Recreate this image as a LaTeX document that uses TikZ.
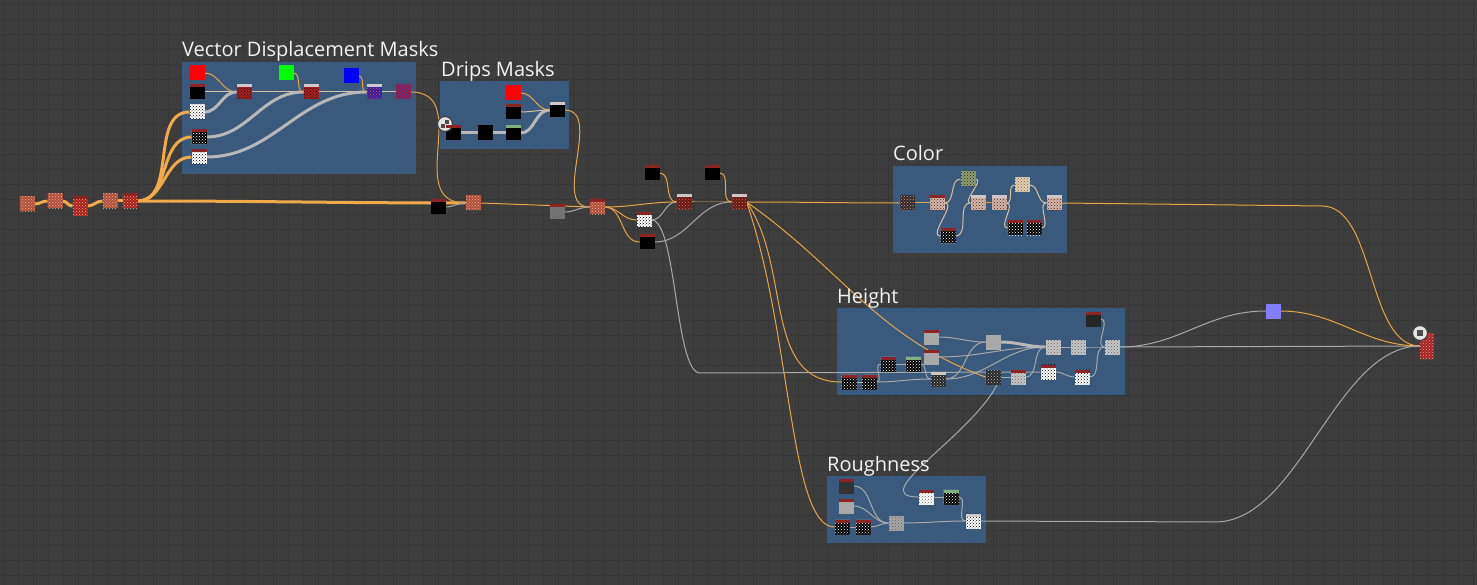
\documentclass[tikz,border=0pt]{standalone}
\usepackage{fontspec}
\setmainfont{Open Sans}
\usetikzlibrary{patterns}
\pgfdeclarelayer{bgl}
\pgfdeclarelayer{lnk}
\pgfsetlayers{bgl,lnk,main}
\definecolor{bg}{HTML}{3D3D3D}
\definecolor{gridc}{HTML}{363636}
\definecolor{frm}{HTML}{3A5A7D}
\definecolor{ttlc}{HTML}{F2F2F2}
\definecolor{oth}{HTML}{F2A94A}
\definecolor{otn}{HTML}{E6A446}
\definecolor{gtk}{HTML}{B8B8B8}
\definecolor{gtn}{HTML}{A8A8A8}
\definecolor{btn}{HTML}{D8C0A0}
\definecolor{barR}{HTML}{8C2424}
\definecolor{barW}{HTML}{D0C8C8}
\definecolor{barG}{HTML}{80B080}
\definecolor{orF}{HTML}{B05040}
\definecolor{orD}{HTML}{F0B080}
\definecolor{rnF}{HTML}{A82020}
\definecolor{rnD}{HTML}{200505}
\definecolor{bnF}{HTML}{3020A0}
\definecolor{bnD}{HTML}{FF4040}
\definecolor{pnF}{HTML}{902050}
\definecolor{pnD}{HTML}{3040C0}
\definecolor{drF}{HTML}{601818}
\definecolor{drD}{HTML}{F07040}
\definecolor{pkF}{HTML}{D8B8A8}
\definecolor{pkD}{HTML}{402020}
\definecolor{dkF}{HTML}{302828}
\definecolor{dkD}{HTML}{D0A8A0}
\definecolor{gnF}{HTML}{90A070}
\definecolor{gnD}{HTML}{202010}
\definecolor{beF}{HTML}{E0D0B0}
\definecolor{beD}{HTML}{806040}
\definecolor{lgF}{HTML}{C8C8C8}
\definecolor{lgD}{HTML}{606060}
\definecolor{ggF}{HTML}{A8A8A8}
\definecolor{vio}{HTML}{8080FF}
\tikzset{
  nd/.style={draw=none, minimum width=15pt, minimum height=15pt, inner sep=0pt, outer sep=0pt},
  tx/.style 2 args={nd, fill=#1, postaction={pattern=crosshatch dots, pattern color=#2}},
  pl/.style={nd, fill=#1},
  ttl/.style={text=ttlc, font=\fontsize{20}{22}\selectfont, anchor=base west, inner sep=0pt},
  frame/.style={fill=frm},
  lk/.style={out=0, in=180},
  othick/.style={draw=oth, line width=3pt},
  othin/.style={draw=otn, line width=1pt},
  gthick/.style={draw=gtk, line width=3pt},
  gthin/.style={draw=gtn, line width=1pt},
  bthin/.style={draw=btn, line width=1pt},
  icon/.style={circle, fill=white!90!black, draw=black!75, line width=1.2pt, minimum size=15pt, inner sep=0pt},
}
\begin{document}
\begin{tikzpicture}[x=1pt, y=-1pt]
\useasboundingbox (0,0) rectangle (1477,585);
\begin{pgfonlayer}{bgl}
\fill[bg] (0,0) rectangle (1477,585);
\foreach \x in {3,18,...,1477} \draw[gridc, line width=1pt] (\x,0) -- (\x,585);
\foreach \y in {5,20,...,585} \draw[gridc, line width=1pt] (0,\y) -- (1477,\y);
\fill[frame] (182,62) rectangle (416,174);
\fill[frame] (440,81) rectangle (569,149);
\fill[frame] (893,166) rectangle (1067,253);
\fill[frame] (837,308) rectangle (1125,395);
\fill[frame] (827,476) rectangle (986,543);
\end{pgfonlayer}
\node[ttl] (t1) at (182,57) {Vector Displacement Masks};
\node[ttl] (t2) at (441,77) {Drips Masks};
\node[ttl] (t3) at (893,161) {Color};
\node[ttl] (t4) at (837,303) {Height};
\node[ttl] (t5) at (827,471) {Roughness};

% nodes: left chain
\node[tx={orF}{orD}] (a1) at (27,204) {};
\node[tx={orF}{orD}] (a2) at (55,201) {};
\node[tx={rnF}{orD}, minimum height=20pt] (a3) at (80,206) {};
\node[tx={orF}{orD}] (a4) at (110,201) {};
\node[tx={rnF}{orD}] (a5) at (130,201) {};
% VDM
\node[pl=red] (v1) at (197,73) {};
\node[pl=black] (v2) at (197,92) {};
\node[tx={white}{black}] (v3) at (197,112) {};
\node[tx={black}{white}] (v4) at (199,137) {};
\node[tx={white}{black}] (v5) at (199,157) {};
\node[tx={rnF}{rnD}] (v6) at (244,92) {};
\node[pl=green] (v7) at (286,73) {};
\node[tx={rnF}{rnD}] (v8) at (311,92) {};
\node[pl=blue] (v9) at (351,76) {};
\node[tx={bnF}{bnD}] (v10) at (374,92) {};
\node[tx={pnF}{pnD}] (v11) at (403,92) {};
% Drips
\node[pl=black] (d1) at (453,133) {};
\node[pl=black] (d2) at (485,133) {};
\node[pl=black] (d3) at (513,133) {};
\node[pl=red] (d4) at (513,93) {};
\node[pl=black] (d5) at (513,112) {};
\node[pl=black] (d6) at (557,110) {};
\node[icon] (d0) at (445,124) {};
% middle
\node[pl=black] (m1) at (438,207) {};
\node[tx={orF}{orD}] (m2) at (473,203) {};
\node[pl=black!55] (m3) at (557,212) {};
\node[tx={orF}{orD}] (m4) at (597,207) {};
\node[pl=black] (m5) at (652,173) {};
\node[tx={white}{black}] (m6) at (644,220) {};
\node[tx={drF}{drD}] (m7) at (684,202) {};
\node[pl=black] (m8) at (712,173) {};
\node[tx={drF}{drD}] (m9) at (739,202) {};
\node[pl=black] (m10) at (647,242) {};
\coordinate (g1) at (700,373);
% Color
\node[tx={dkF}{dkD}] (c1) at (907,203) {};
\node[tx={pkF}{pkD}] (c2) at (937,203) {};
\node[tx={gnF}{gnD}] (c3) at (968,179) {};
\node[tx={pkF}{pkD}] (c4) at (978,203) {};
\node[tx={black}{white}] (c5) at (948,236) {};
\node[tx={pkF}{pkD}] (c6) at (999,203) {};
\node[tx={beF}{beD}] (c7) at (1022,185) {};
\node[tx={black}{white}] (c8) at (1015,228) {};
\node[tx={black}{white}] (c9) at (1034,228) {};
\node[tx={pkF}{pkD}] (c10) at (1054,203) {};
\coordinate (cc) at (1322,206);
% Height
\node[tx={black}{white}] (h1) at (849,382) {};
\node[tx={black}{white}] (h2) at (869,382) {};
\node[tx={black}{white}] (h3) at (888,364) {};
\node[tx={black}{white}] (h4) at (913,364) {};
\node[pl=ggF] (h5) at (931,337) {};
\node[pl=ggF] (h6) at (931,357) {};
\node[tx={black!85}{lgF}] (h7) at (938,379) {};
\node[pl=ggF] (h8) at (993,342) {};
\node[tx={black!85}{lgF}] (h9) at (993,377) {};
\node[tx={lgF}{lgD}] (h10) at (1018,377) {};
\node[tx={lgF}{lgD}] (h11) at (1053,347) {};
\node[tx={lgF}{lgD}] (h12) at (1078,347) {};
\node[tx={white}{black}] (h13) at (1048,372) {};
\node[tx={white}{black}] (h14) at (1082,377) {};
\node[pl=black!85] (h15) at (1093,319) {};
\node[tx={lgF}{lgD}] (h16) at (1112,347) {};
\node[pl=vio] (vv) at (1273,311) {};
% Roughness
\node[pl=black!80] (r1) at (846,486) {};
\node[pl=ggF] (r2) at (846,506) {};
\node[tx={black}{white}] (r3) at (842,527) {};
\node[tx={black}{white}] (r4) at (863,527) {};
\node[tx={ggF}{lgD}] (r5) at (896,523) {};
\node[tx={white}{black!60}] (r6) at (926,497) {};
\node[tx={black}{white}] (r7) at (951,497) {};
\node[tx={white}{black}] (r8) at (973,521) {};
\coordinate (rc) at (1215,522);
% output
\node[tx={rnF}{dkD}, minimum width=14pt, minimum height=26pt] (out) at (1427,346) {};
\node[icon] (oc) at (1420,333) {};
\fill[black!70] ([shift={(-3pt,-3pt)}]oc.center) rectangle ([shift={(3pt,3pt)}]oc.center);
\fill[black!70] ([shift={(-4pt,-4pt)}]d0.center) rectangle (d0.center);
\fill[black!70] (d0.center) rectangle ([shift={(4pt,4pt)}]d0.center);

% header bars
\foreach \n in {v2,v4,v5,d1,d5,m1,m3,m4,m5,m6,m8,m10,c2,c5,c8,c9,h1,h2,h3,h5,h6,h10,h13,h14,h15,r1,r2,r3,r4,r6,a3,a5}
  \fill[barR] (\n.north west) rectangle ([yshift=-3pt]\n.north east);
\foreach \n in {v6,v8,v10,d6,m7,m9,c10,c6,c4,h7,r8}
  \fill[barW] (\n.north west) rectangle ([yshift=-3pt]\n.north east);
\foreach \n in {d3,h4,r7}
  \fill[barG] (\n.north west) rectangle ([yshift=-3pt]\n.north east);

\begin{pgfonlayer}{lnk}
% left chain
\draw[othick] (a1.east) to[lk] (a2.west);
\draw[othick] (a2.east) to[lk] (a3.west);
\draw[othick] (a3.east) to[lk] (a4.west);
\draw[othick] (a4.east) to[lk] (a5.west);
\draw[othick] (a5.east) to[lk] (v3.west);
\draw[othick] (a5.east) to[lk] (v4.west);
\draw[othick] (a5.east) to[lk] (v5.west);
\draw[othick] (a5.east) to[lk] (m2.west);
% VDM
\draw[othin] (v1.east) to[lk] (v6.west);
\draw[bthin] (v2.east) -- (v6.west);
\draw[bthin] (v6.east) -- (v8.west);
\draw[bthin] (v8.east) -- (v10.west);
\draw[bthin] (v10.east) -- (v11.west);
\draw[gthick] (v3.east) to[lk] (v6.west);
\draw[gthick] (v4.east) to[lk] (v8.west);
\draw[gthick] (v5.east) to[lk] (v10.west);
\draw[othin] (v7.east) to[lk] (v8.west);
\draw[othin] (v9.east) to[lk] (v10.west);
\draw[othin] (v11.east) to[out=0,in=180,looseness=1.3] (m2.west);
% Drips
\draw[gthick] (d1.east) -- (d2.west);
\draw[gthick] (d2.east) -- (d3.west);
\draw[gthick] (d3.east) to[lk] (d6.west);
\draw[othin] (d4.east) to[lk] (d6.west);
\draw[bthin] (d5.east) to[lk] (d6.west);
\draw[othin] (d6.east) to[lk] (m4.west);
% middle
\draw[gthin] (m1.east) to[lk] (m2.west);
\draw[othin] (m2.east) -- (m4.west);
\draw[gthin] (m3.east) to[lk] (m4.west);
\draw[othin] (m4.east) to[lk] (m7.west);
\draw[othin] (m4.east) to[lk] (m6.west);
\draw[othin] (m4.east) to[lk] (m10.west);
\draw[gthin] (m6.east) to[lk] (m7.west);
\draw[gthin] (m10.east) to[lk] (m9.west);
\draw[othin] (m5.east) to[lk] (m7.west);
\draw[othin] (m8.east) to[lk] (m9.west);
\draw[othin] (m7.east) to[lk] (m9.west);
\draw[gthin] (m6.east) to[out=0,in=180,looseness=0.4] (g1);
\draw[gthin] (g1) -- (h13.west);
% Color
\draw[othin] (m9.east) to[lk] (c1.west);
\draw[othin] (c1.east) -- (c2.west);
\draw[bthin] (c2.east) to[lk] (c3.west);
\draw[bthin] (c2.east) to[lk] (c5.west);
\draw[bthin] (c3.east) to[lk] (c4.west);
\draw[bthin] (c5.east) to[lk] (c4.west);
\draw[othin] (c4.east) -- (c6.west);
\draw[bthin] (c6.east) to[lk] (c7.west);
\draw[bthin] (c6.east) to[lk] (c8.west);
\draw[bthin] (c7.east) to[lk] (c10.west);
\draw[bthin] (c9.east) to[lk] (c10.west);
\draw[othin] (c10.east) -- (cc);
\draw[othin] (cc) to[out=0,in=180,looseness=0.8] (out.west);
% to Height / Roughness
\draw[othin] (m9.east) to[out=-55,in=180] (h1.west);
\draw[othin] (m9.east) to[out=-35,in=160] (h9.west);
\draw[othin] (m9.east) .. controls +(45,130) and +(-45,0) .. (r3.west);
% Height
\draw[gthin] (h1.east) -- (h2.west);
\draw[gthin] (h2.east) to[lk] (h3.west);
\draw[gthin] (h3.east) -- (h4.west);
\draw[gthin] (h4.east) to[lk] (h7.west);
\draw[gthin] (h2.east) to[lk] (h7.west);
\draw[gthin] (h5.east) to[lk] (h8.west);
\draw[gthin] (h6.east) to[lk] (h11.west);
\draw[gthin] (h7.east) to[lk] (h8.west);
\draw[gthin] (h7.east) to[lk] (h11.west);
\draw[gthick] (h8.east) to[lk] (h11.west);
\draw[gthin] (h9.east) -- (h10.west);
\draw[gthin] (h10.east) to[lk] (h11.west);
\draw[gthin] (h11.east) -- (h12.west);
\draw[gthin] (h12.east) to[lk] (h16.west);
\draw[gthin] (h15.east) to[lk] (h16.west);
\draw[gthin] (h13.east) to[lk] (h14.west);
\draw[gthin] (h14.east) to[lk] (h16.west);
\draw[gthin] (h16.east) -- (out.west);
\draw[gthin] (h16.east) to[lk] (vv.west);
\draw[othin] (vv.east) to[lk] (out.west);
\draw[gthin] (h9.east) to[out=-110,in=180] (r6.west);
% Roughness
\draw[gthin] (r1.east) to[lk] (r5.west);
\draw[gthin] (r2.east) to[lk] (r5.west);
\draw[gthin] (r3.east) -- (r4.west);
\draw[gthin] (r4.east) to[lk] (r5.west);
\draw[gthin] (r5.east) to[lk] (r8.west);
\draw[gthin] (r6.east) -- (r7.west);
\draw[gthin] (r7.east) to[lk] (r8.west);
\draw[gthin] (r8.east) -- (rc);
\draw[gthin] (rc) to[out=0,in=180,looseness=0.8] (out.west);
\end{pgfonlayer}
\end{tikzpicture}
\end{document}
